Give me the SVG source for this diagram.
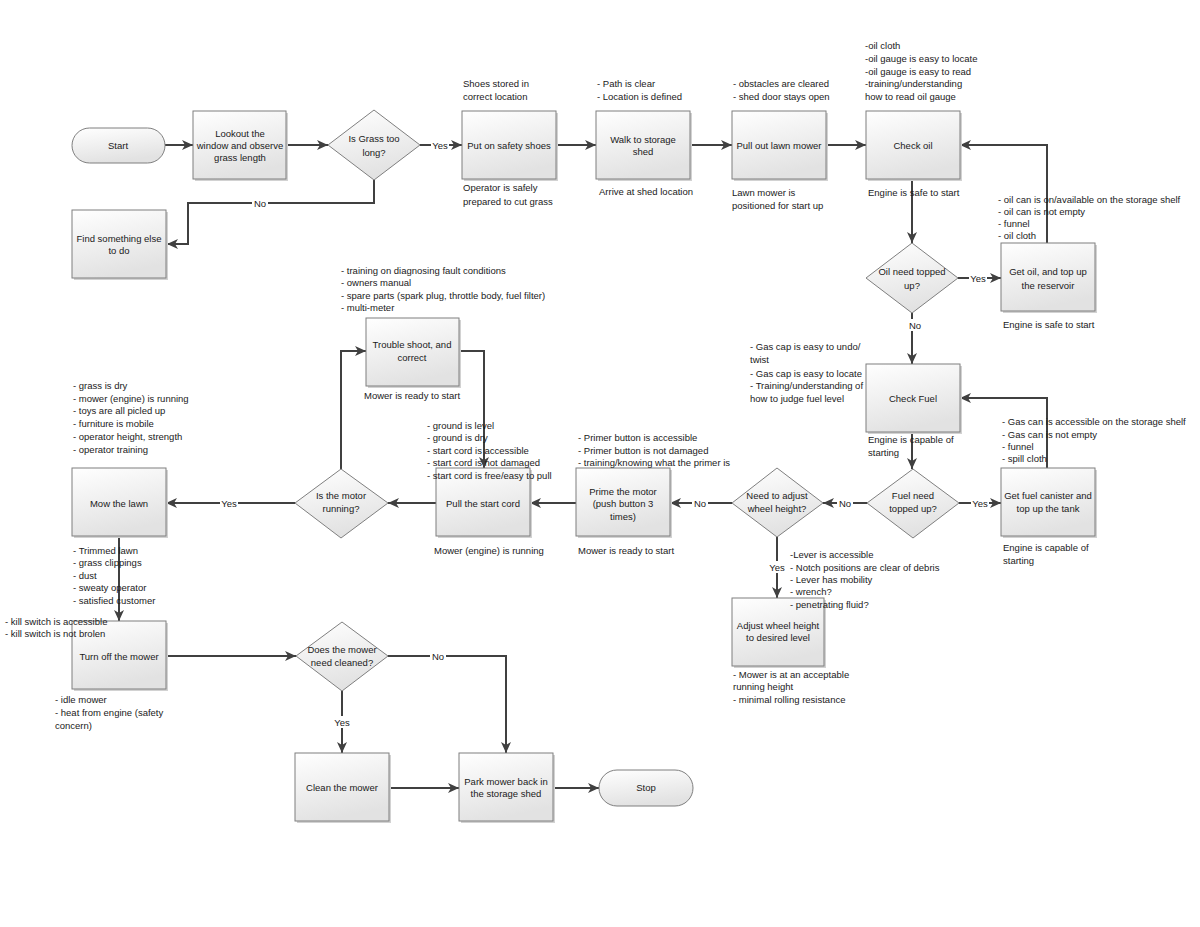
<svg xmlns="http://www.w3.org/2000/svg" width="1200" height="927" viewBox="0 0 1200 927">
<defs>
<linearGradient id="g" x1="0" y1="0" x2="0.3" y2="1">
<stop offset="0" stop-color="#ffffff"/>
<stop offset="1" stop-color="#e2e2e2"/>
</linearGradient>
<marker id="a" markerUnits="userSpaceOnUse" markerWidth="12" markerHeight="12" viewBox="0 0 12 12" refX="11" refY="6" orient="auto">
<path d="M0,1 L11,6 L0,11 L3,6 Z" fill="#404040"/>
</marker>
</defs>
<style>
text{font-family:"Liberation Sans Narrow","Liberation Sans",Arial,sans-serif;font-size:9.5px;fill:#1a1a1a}
.n text{text-anchor:middle}
.box{fill:url(#g);stroke:#7f7f7f;stroke-width:1}
.sh{fill:#d2d2d2;stroke:none}
.c path{fill:none;stroke:#404040;stroke-width:2;marker-end:url(#a)}
.lb rect{fill:#fff}
.lb text{text-anchor:middle}
</style>
<rect width="1200" height="927" fill="#fff"/>

<g class="c" id="connectors">
<path d="M165,145 H193"/>
<path d="M287,145 H328"/>
<path d="M420,145 H462"/>
<path d="M374,180 V203 H188 V244 H167"/>
<path d="M556,145 H596"/>
<path d="M690,145 H732"/>
<path d="M826,145 H866"/>
<path d="M912,179 V243"/>
<path d="M958,278 H1001"/>
<path d="M1047,243 V145 H960"/>
<path d="M912,313 V364"/>
<path d="M912,432 V469"/>
<path d="M959,503 H1001"/>
<path d="M1047,468 V398 H960"/>
<path d="M867,503 H823"/>
<path d="M777,537 V598"/>
<path d="M732,503 H670"/>
<path d="M576,503 H530"/>
<path d="M436,503 H388"/>
<path d="M341,469 V351 H366"/>
<path d="M459,351 H484 V468"/>
<path d="M295,503 H166"/>
<path d="M119,536 V621"/>
<path d="M166,656 H296"/>
<path d="M388,656 H506 V753"/>
<path d="M342,691 V753"/>
<path d="M389,788 H459"/>
<path d="M553,788 H599"/>
</g>

<g class="lb" id="connector-labels">
<rect x="431" y="139" width="18" height="12"/><text x="440" y="149">Yes</text>
<rect x="252" y="197" width="16" height="12"/><text x="260" y="207">No</text>
<rect x="969" y="272" width="18" height="12"/><text x="978" y="282">Yes</text>
<rect x="907" y="319" width="16" height="12"/><text x="915" y="329">No</text>
<rect x="971" y="497" width="18" height="12"/><text x="980" y="507">Yes</text>
<rect x="837" y="497" width="16" height="12"/><text x="845" y="507">No</text>
<rect x="768" y="561" width="18" height="12"/><text x="777" y="571">Yes</text>
<rect x="692" y="497" width="16" height="12"/><text x="700" y="507">No</text>
<rect x="220" y="497" width="18" height="12"/><text x="229" y="507">Yes</text>
<rect x="430" y="650" width="16" height="12"/><text x="438" y="660">No</text>
<rect x="333" y="716" width="18" height="12"/><text x="342" y="726">Yes</text>
</g>

<g class="n" id="start">
<rect x="72" y="128" width="93" height="35" rx="17.5" class="box"/>
<text x="118" y="149">Start</text>
</g>
<g class="n" id="lookout">
<rect x="195" y="113" width="93" height="68" class="sh"/>
<rect x="193" y="111" width="93" height="68" class="box"/>
<text x="240" y="137">Lookout the</text><text x="240" y="149">window and observe</text><text x="240" y="161">grass length</text>
</g>
<g class="n" id="grass-long">
<path d="M374,110 L420,145 L374,180 L328,145 Z" class="box"/>
<text x="374" y="142">Is Grass too</text><text x="374" y="156">long?</text>
</g>
<g class="n" id="find-else">
<rect x="74" y="212" width="94" height="68" class="sh"/>
<rect x="72" y="210" width="94" height="68" class="box"/>
<text x="119" y="242">Find something else</text><text x="119" y="254">to do</text>
</g>
<g class="n" id="shoes">
<rect x="464" y="113" width="94" height="68" class="sh"/>
<rect x="462" y="111" width="94" height="68" class="box"/>
<text x="509" y="149">Put on safety shoes</text>
</g>
<g class="n" id="walk">
<rect x="598" y="113" width="94" height="68" class="sh"/>
<rect x="596" y="111" width="94" height="68" class="box"/>
<text x="643" y="143">Walk to storage</text><text x="643" y="155">shed</text>
</g>
<g class="n" id="pullout">
<rect x="734" y="113" width="94" height="68" class="sh"/>
<rect x="732" y="111" width="94" height="68" class="box"/>
<text x="779" y="149">Pull out lawn mower</text>
</g>
<g class="n" id="checkoil">
<rect x="868" y="113" width="94" height="68" class="sh"/>
<rect x="866" y="111" width="94" height="68" class="box"/>
<text x="913" y="149">Check oil</text>
</g>
<g class="n" id="oilneed">
<path d="M912,243 L958,278 L912,313 L866,278 Z" class="box"/>
<text x="912" y="275">Oil need topped</text><text x="912" y="289">up?</text>
</g>
<g class="n" id="getoil">
<rect x="1003" y="245" width="94" height="68" class="sh"/>
<rect x="1001" y="243" width="94" height="68" class="box"/>
<text x="1048" y="275">Get oil, and top up</text><text x="1048" y="289">the reservoir</text>
</g>
<g class="n" id="checkfuel">
<rect x="868" y="366" width="94" height="68" class="sh"/>
<rect x="866" y="364" width="94" height="68" class="box"/>
<text x="913" y="402">Check Fuel</text>
</g>
<g class="n" id="fuelneed">
<path d="M913,469 L959,503 L913,538 L867,503 Z" class="box"/>
<text x="913" y="499">Fuel need</text><text x="913" y="512">topped up?</text>
</g>
<g class="n" id="getfuel">
<rect x="1003" y="470" width="94" height="68" class="sh"/>
<rect x="1001" y="468" width="94" height="68" class="box"/>
<text x="1048" y="499">Get fuel canister and</text><text x="1048" y="512">top up the tank</text>
</g>
<g class="n" id="adjustq">
<path d="M777,468 L823,503 L777,537 L732,503 Z" class="box"/>
<text x="777" y="499">Need to adjust</text><text x="777" y="512">wheel height?</text>
</g>
<g class="n" id="adjust">
<rect x="734" y="600" width="92" height="68" class="sh"/>
<rect x="732" y="598" width="92" height="68" class="box"/>
<text x="778" y="629">Adjust wheel height</text><text x="778" y="641">to desired level</text>
</g>
<g class="n" id="prime">
<rect x="578" y="470" width="94" height="68" class="sh"/>
<rect x="576" y="468" width="94" height="68" class="box"/>
<text x="623" y="495">Prime the motor</text><text x="623" y="507">(push button 3</text><text x="623" y="520">times)</text>
</g>
<g class="n" id="pullcord">
<rect x="438" y="470" width="94" height="68" class="sh"/>
<rect x="436" y="468" width="94" height="68" class="box"/>
<text x="483" y="507">Pull the start cord</text>
</g>
<g class="n" id="running">
<path d="M341,469 L388,503 L341,538 L295,503 Z" class="box"/>
<text x="341" y="499">Is the motor</text><text x="341" y="512">running?</text>
</g>
<g class="n" id="trouble">
<rect x="368" y="320" width="93" height="68" class="sh"/>
<rect x="366" y="318" width="93" height="68" class="box"/>
<text x="412" y="348">Trouble shoot, and</text><text x="412" y="361">correct</text>
</g>
<g class="n" id="mow">
<rect x="74" y="470" width="94" height="68" class="sh"/>
<rect x="72" y="468" width="94" height="68" class="box"/>
<text x="119" y="507">Mow the lawn</text>
</g>
<g class="n" id="turnoff">
<rect x="74" y="623" width="94" height="68" class="sh"/>
<rect x="72" y="621" width="94" height="68" class="box"/>
<text x="119" y="660">Turn off the mower</text>
</g>
<g class="n" id="cleanq">
<path d="M342,622 L388,656 L342,691 L296,656 Z" class="box"/>
<text x="342" y="653">Does the mower</text><text x="342" y="666">need cleaned?</text>
</g>
<g class="n" id="clean">
<rect x="297" y="755" width="94" height="68" class="sh"/>
<rect x="295" y="753" width="94" height="68" class="box"/>
<text x="342" y="791">Clean the mower</text>
</g>
<g class="n" id="park">
<rect x="461" y="755" width="94" height="68" class="sh"/>
<rect x="459" y="753" width="94" height="68" class="box"/>
<text x="506" y="785">Park mower back in</text><text x="506" y="797">the storage shed</text>
</g>
<g class="n" id="stop">
<rect x="599" y="770" width="94" height="36" rx="18" class="box"/>
<text x="646" y="791">Stop</text>
</g>

<g id="annotations">
<text x="463" y="87">Shoes stored in</text><text x="463" y="100">correct location</text>
<text x="463" y="191">Operator is safely</text><text x="463" y="205">prepared to cut grass</text>
<text x="597" y="87">- Path is clear</text><text x="597" y="100">- Location is defined</text>
<text x="599" y="195">Arrive at shed location</text>
<text x="733" y="87">- obstacles are cleared</text><text x="733" y="100">- shed door stays open</text>
<text x="732" y="196">Lawn mower is</text><text x="732" y="209">positioned for start up</text>
<text x="865" y="49">-oil cloth</text><text x="865" y="62">-oil gauge is easy to locate</text><text x="865" y="75">-oil gauge is easy to read</text><text x="865" y="87">-training/understanding</text><text x="865" y="100">how to read oil gauge</text>
<text x="868" y="196">Engine is safe to start</text>
<text x="998" y="203">- oil can is on/available on the storage shelf</text><text x="998" y="215">- oil can is not empty</text><text x="998" y="227">- funnel</text><text x="998" y="239">- oil cloth</text>
<text x="1003" y="328">Engine is safe to start</text>
<text x="750" y="350">- Gas cap is easy to undo/</text><text x="750" y="363">twist</text><text x="750" y="377">- Gas cap is easy to locate</text><text x="750" y="389">- Training/understanding of</text><text x="750" y="402">how to judge fuel level</text>
<text x="868" y="443">Engine is capable of</text><text x="868" y="456">starting</text>
<text x="1002" y="425">- Gas can is accessible on the storage shelf</text><text x="1002" y="438">- Gas can is not empty</text><text x="1002" y="450">- funnel</text><text x="1002" y="462">- spill cloth</text>
<text x="1003" y="551">Engine is capable of</text><text x="1003" y="564">starting</text>
<text x="790" y="558">-Lever is accessible</text><text x="790" y="571">- Notch positions are clear of debris</text><text x="790" y="583">- Lever has mobility</text><text x="790" y="595">- wrench?</text><text x="790" y="608">- penetrating fluid?</text>
<text x="733" y="678">-  Mower is at an acceptable</text><text x="733" y="690">running height</text><text x="733" y="703">- minimal rolling resistance</text>
<text x="578" y="441">- Primer button is accessible</text><text x="578" y="454">- Primer button is not damaged</text><text x="578" y="466">- training/knowing what the primer is</text>
<text x="578" y="554">Mower is ready to start</text>
<text x="427" y="429">- ground is level</text><text x="427" y="441">- ground is dry</text><text x="427" y="454">- start cord is accessible</text><text x="427" y="466">- start cord is not damaged</text><text x="427" y="479">- start cord is free/easy to pull</text>
<text x="434" y="554">Mower (engine) is running</text>
<text x="341" y="274">- training on diagnosing fault conditions</text><text x="341" y="286">- owners manual</text><text x="341" y="299">- spare parts (spark plug, throttle body, fuel filter)</text><text x="341" y="311">- multi-meter</text>
<text x="364" y="399">Mower is ready to start</text>
<text x="73" y="389">- grass is dry</text><text x="73" y="402">- mower (engine) is running</text><text x="73" y="414">- toys are all picled up</text><text x="73" y="427">- furniture is mobile</text><text x="73" y="440">- operator height, strength</text><text x="73" y="453">- operator training</text>
<text x="73" y="554">- Trimmed lawn</text><text x="73" y="566">- grass clippings</text><text x="73" y="579">- dust</text><text x="73" y="591">- sweaty operator</text><text x="73" y="604">- satisfied customer</text>
<text x="5" y="625">- kill switch is accessible</text><text x="5" y="637">- kill switch is not brolen</text>
<text x="55" y="703">- idle mower</text><text x="55" y="716">- heat from engine (safety</text><text x="55" y="729">concern)</text>
</g>
</svg>
